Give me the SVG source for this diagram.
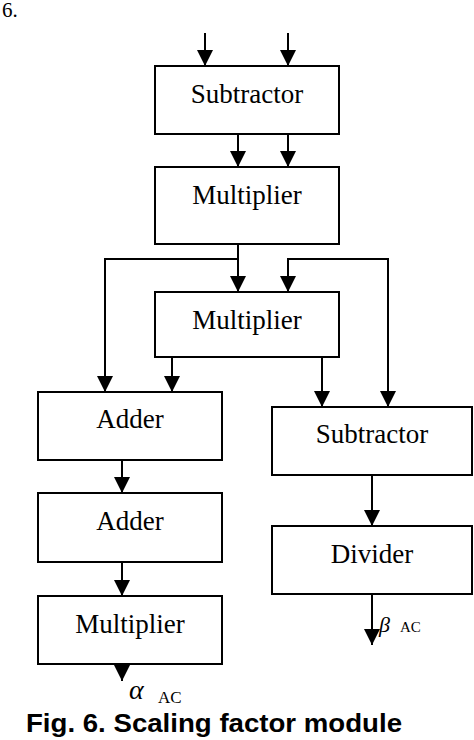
<svg xmlns="http://www.w3.org/2000/svg" width="474" height="740" viewBox="0 0 474 740">
<style>
.box{fill:#fff;stroke:#000;stroke-width:2}
.lbl{font-family:"Liberation Serif","Times New Roman",serif;font-size:27px;text-anchor:middle;fill:#000}
.wire{fill:none;stroke:#000;stroke-width:2}
.sym{font-family:"Liberation Serif","Times New Roman",serif;font-style:italic;fill:#000}
.sub{font-family:"Liberation Serif","Times New Roman",serif;fill:#000}
.cap{font-family:"Liberation Sans",Arial,sans-serif;font-weight:bold;font-size:26px;fill:#000}
</style>
<defs>
<marker id="ah" markerWidth="16" markerHeight="16" viewBox="0 0 16 16" refX="16" refY="8" orient="auto" markerUnits="userSpaceOnUse">
<path d="M0,0 L16,8 L0,16 Z" fill="#000"/>
</marker>
</defs>
<rect width="474" height="740" fill="#fff"/>
<text x="2" y="17" class="sub" font-size="21">6.</text>
<g id="connectors">
<path class="wire" d="M205,33 V66" marker-end="url(#ah)"/>
<path class="wire" d="M288,33 V66" marker-end="url(#ah)"/>
<path class="wire" d="M238,134 V167" marker-end="url(#ah)"/>
<path class="wire" d="M288,134 V167" marker-end="url(#ah)"/>
<path class="wire" d="M238,244 V292" marker-end="url(#ah)"/>
<path class="wire" d="M238,259 H105 V392" marker-end="url(#ah)"/>
<path class="wire" d="M388,407 V259 H288 V292" marker-end="url(#ah)"/>
<path class="wire" d="M388,259 V407" marker-end="url(#ah)"/>
<path class="wire" d="M172,357 V392" marker-end="url(#ah)"/>
<path class="wire" d="M322,357 V407" marker-end="url(#ah)"/>
<path class="wire" d="M122,460 V493" marker-end="url(#ah)"/>
<path class="wire" d="M122,562 V596" marker-end="url(#ah)"/>
<path class="wire" d="M122,664 V681" marker-end="url(#ah)"/>
<path class="wire" d="M372,475 V526" marker-end="url(#ah)"/>
<path class="wire" d="M372,594 V645" marker-end="url(#ah)"/>
</g>
<g id="subtractor1"><rect class="box" x="155" y="66" width="184" height="68"/><text class="lbl" x="247" y="103">Subtractor</text></g>
<g id="multiplier1"><rect class="box" x="155" y="167" width="184" height="77"/><text class="lbl" x="247" y="204">Multiplier</text></g>
<g id="multiplier2"><rect class="box" x="155" y="292" width="184" height="65"/><text class="lbl" x="247" y="329">Multiplier</text></g>
<g id="adder1"><rect class="box" x="38" y="392" width="184" height="68"/><text class="lbl" x="130" y="428">Adder</text></g>
<g id="subtractor2"><rect class="box" x="272" y="407" width="200" height="68"/><text class="lbl" x="372" y="443">Subtractor</text></g>
<g id="adder2"><rect class="box" x="38" y="493" width="184" height="69"/><text class="lbl" x="130" y="530">Adder</text></g>
<g id="divider"><rect class="box" x="272" y="526" width="200" height="68"/><text class="lbl" x="372" y="563">Divider</text></g>
<g id="multiplier3"><rect class="box" x="38" y="596" width="184" height="68"/><text class="lbl" x="130" y="633">Multiplier</text></g>
<g id="out-alpha"><text class="sym" x="129" y="699" font-size="28">α</text><text class="sub" x="158" y="703" font-size="17">AC</text></g>
<g id="out-beta"><text class="sym" x="379" y="632" font-size="22">β</text><text class="sub" x="400" y="632" font-size="15">AC</text></g>
<text class="cap" x="26" y="732" textLength="376" lengthAdjust="spacingAndGlyphs">Fig. 6. Scaling factor module</text>
</svg>
